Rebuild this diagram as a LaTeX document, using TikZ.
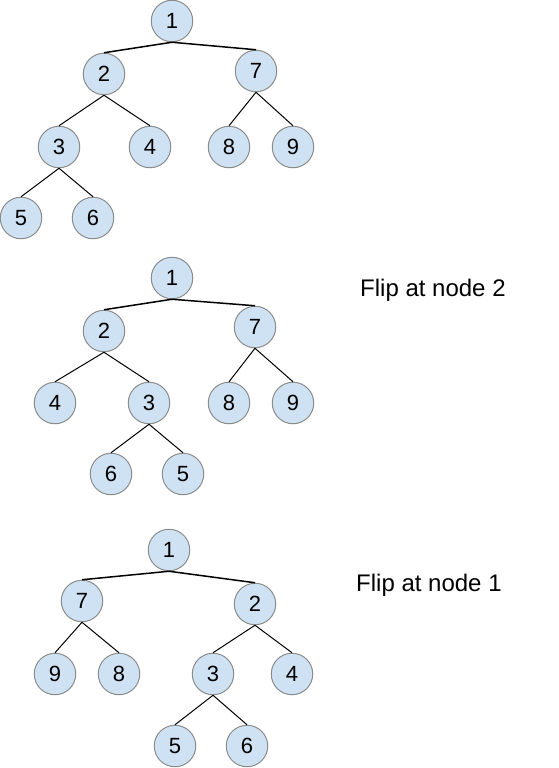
\documentclass[tikz,border=0pt]{standalone}
\usepackage{fontspec}
\setmainfont{Liberation Sans}
\usetikzlibrary{positioning}
\definecolor{nodefill}{RGB}{207,226,243}
\definecolor{nodeline}{RGB}{140,140,140}
\tikzset{
  vtx/.style={draw=nodeline,fill=nodefill,circle,line width=1pt,inner sep=0pt,
    minimum size=41.5pt,font=\fontsize{22}{26}\selectfont},
  rootedge/.style={line width=1.5pt},
  edge/.style={line width=1pt},
  fliplabel/.style={anchor=base west,inner sep=0pt,font=\fontsize{24}{28}\selectfont}
}
\begin{document}
\begin{tikzpicture}[x=1pt,y=-1pt]
  \useasboundingbox (0,0) rectangle (559,768);
  % original tree
  \node[vtx] (a1) at (172,21) {1};
  \node[vtx] (a2) at (104,74) {2};
  \node[vtx] (a7) at (256,71) {7};
  \node[vtx] (a3) at (59,147) {3};
  \node[vtx] (a4) at (150,147) {4};
  \node[vtx] (a8) at (229,147) {8};
  \node[vtx] (a9) at (293,147) {9};
  \node[vtx] (a5) at (21,218) {5};
  \node[vtx] (a6) at (93,218) {6};
  \draw[rootedge] (a1.south) -- (a2.north);
  \draw[rootedge] (a1.south) -- (a7.north);
  \draw[edge] (a2.south) -- (a3.north);
  \draw[edge] (a2.south) -- (a4.north);
  \draw[edge] (a7.south) -- (a8.north);
  \draw[edge] (a7.south) -- (a9.north);
  \draw[edge] (a3.south) -- (a5.north);
  \draw[edge] (a3.south) -- (a6.north);
  % after flip at 2
  \node[vtx] (b1) at (172,278) {1};
  \node[vtx] (b2) at (104,331) {2};
  \node[vtx] (b7) at (255,327) {7};
  \node[vtx] (b4) at (55,403) {4};
  \node[vtx] (b3) at (149,403) {3};
  \node[vtx] (b8) at (229,403) {8};
  \node[vtx] (b9) at (293,403) {9};
  \node[vtx] (b6) at (111,474) {6};
  \node[vtx] (b5) at (183,474) {5};
  \draw[rootedge] (b1.south) -- (b2.north);
  \draw[rootedge] (b1.south) -- (b7.north);
  \draw[edge] (b2.south) -- (b4.north);
  \draw[edge] (b2.south) -- (b3.north);
  \draw[edge] (b7.south) -- (b8.north);
  \draw[edge] (b7.south) -- (b9.north);
  \draw[edge] (b3.south) -- (b6.north);
  \draw[edge] (b3.south) -- (b5.north);
  \node[fliplabel] (flip2) at (360,296) {Flip at node 2};
  % after flip at 1
  \node[vtx] (c1) at (169,550) {1};
  \node[vtx] (c7) at (82,601) {7};
  \node[vtx] (c2) at (255,604) {2};
  \node[vtx] (c9) at (55,674) {9};
  \node[vtx] (c8) at (119,674) {8};
  \node[vtx] (c3) at (213,674) {3};
  \node[vtx] (c4) at (292,674) {4};
  \node[vtx] (c5) at (175,746) {5};
  \node[vtx] (c6) at (247,746) {6};
  \draw[rootedge] (c1.south) -- (c7.north);
  \draw[rootedge] (c1.south) -- (c2.north);
  \draw[edge] (c7.south) -- (c9.north);
  \draw[edge] (c7.south) -- (c8.north);
  \draw[edge] (c2.south) -- (c3.north);
  \draw[edge] (c2.south) -- (c4.north);
  \draw[edge] (c3.south) -- (c5.north);
  \draw[edge] (c3.south) -- (c6.north);
  \node[fliplabel] (flip1) at (356,591) {Flip at node 1};
\end{tikzpicture}
\end{document}
